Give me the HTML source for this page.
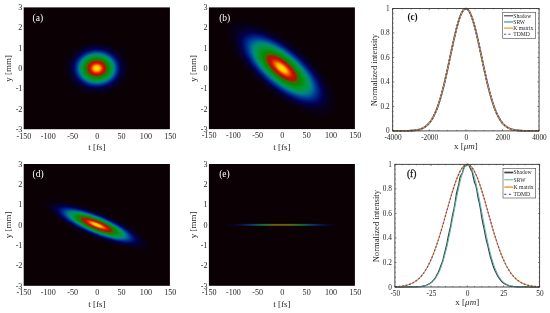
<!DOCTYPE html><html><head><meta charset="utf-8"><title>Figure</title><style>html,body{margin:0;padding:0;background:#fff}svg{display:block}</style></head><body><svg width="550" height="313" viewBox="0 0 550 313" font-family="'Liberation Serif', serif">
<rect width="550" height="313" fill="#fff"/>
<defs>
<radialGradient id="ga" gradientUnits="userSpaceOnUse" cx="0" cy="0" r="36" gradientTransform="translate(96.8 68.3) rotate(0) scale(1.03 0.845)"><stop offset="0.0000" stop-color="#fce018"/><stop offset="0.0721" stop-color="#fbc400"/><stop offset="0.1056" stop-color="#f38700"/><stop offset="0.1461" stop-color="#e43700"/><stop offset="0.1867" stop-color="#cd0c00"/><stop offset="0.2360" stop-color="#9b1e00"/><stop offset="0.2737" stop-color="#506200"/><stop offset="0.3083" stop-color="#058800"/><stop offset="0.3722" stop-color="#009628"/><stop offset="0.4250" stop-color="#009455"/><stop offset="0.4667" stop-color="#00877d"/><stop offset="0.5029" stop-color="#006296"/><stop offset="0.5391" stop-color="#003a94"/><stop offset="0.5923" stop-color="#001473"/><stop offset="0.6455" stop-color="#02004e"/><stop offset="0.7083" stop-color="#06002c"/><stop offset="0.7928" stop-color="#080014"/><stop offset="0.9306" stop-color="#0b0003"/></radialGradient>
<radialGradient id="gb" gradientUnits="userSpaceOnUse" cx="0" cy="0" r="36" gradientTransform="translate(281.9 68.25) rotate(39.7) scale(2.06 0.815)"><stop offset="0.0000" stop-color="#fce018"/><stop offset="0.0683" stop-color="#fbc400"/><stop offset="0.1000" stop-color="#f38700"/><stop offset="0.1411" stop-color="#e43700"/><stop offset="0.1823" stop-color="#cd0c00"/><stop offset="0.2322" stop-color="#9b1e00"/><stop offset="0.2705" stop-color="#506200"/><stop offset="0.3058" stop-color="#058800"/><stop offset="0.3752" stop-color="#009628"/><stop offset="0.4325" stop-color="#009455"/><stop offset="0.4778" stop-color="#00877d"/><stop offset="0.5210" stop-color="#006296"/><stop offset="0.5643" stop-color="#003a94"/><stop offset="0.6278" stop-color="#001473"/><stop offset="0.6797" stop-color="#02004e"/><stop offset="0.7411" stop-color="#06002c"/><stop offset="0.8237" stop-color="#080014"/><stop offset="0.9583" stop-color="#0b0003"/></radialGradient>
<radialGradient id="gd" gradientUnits="userSpaceOnUse" cx="0" cy="0" r="36" gradientTransform="translate(96.8 224.9) rotate(22) scale(1.85 0.435)"><stop offset="0.0000" stop-color="#fce018"/><stop offset="0.0626" stop-color="#fbc400"/><stop offset="0.0917" stop-color="#f38700"/><stop offset="0.1351" stop-color="#e43700"/><stop offset="0.1785" stop-color="#cd0c00"/><stop offset="0.2312" stop-color="#9b1e00"/><stop offset="0.2715" stop-color="#506200"/><stop offset="0.3081" stop-color="#058800"/><stop offset="0.3665" stop-color="#009628"/><stop offset="0.4147" stop-color="#009455"/><stop offset="0.4528" stop-color="#00877d"/><stop offset="0.4920" stop-color="#006296"/><stop offset="0.5313" stop-color="#003a94"/><stop offset="0.5889" stop-color="#001473"/><stop offset="0.6382" stop-color="#02004e"/><stop offset="0.6965" stop-color="#06002c"/><stop offset="0.7750" stop-color="#080014"/><stop offset="0.9028" stop-color="#0b0003"/></radialGradient>
<linearGradient id="ge" gradientUnits="userSpaceOnUse" x1="219.9" x2="343.9" y1="0" y2="0"><stop offset="0.0000" stop-color="#0b0003"/><stop offset="0.0645" stop-color="#0a0014"/><stop offset="0.1290" stop-color="#090837"/><stop offset="0.1774" stop-color="#081964"/><stop offset="0.2258" stop-color="#083787"/><stop offset="0.2742" stop-color="#0a5a82"/><stop offset="0.3145" stop-color="#0f7d5f"/><stop offset="0.3548" stop-color="#19943c"/><stop offset="0.3952" stop-color="#4b8e23"/><stop offset="0.4355" stop-color="#848016"/><stop offset="0.5000" stop-color="#8c7c14"/><stop offset="0.5645" stop-color="#848016"/><stop offset="0.6048" stop-color="#4b8e23"/><stop offset="0.6452" stop-color="#19943c"/><stop offset="0.6855" stop-color="#0f7d5f"/><stop offset="0.7258" stop-color="#0a5a82"/><stop offset="0.7742" stop-color="#083787"/><stop offset="0.8226" stop-color="#081964"/><stop offset="0.8710" stop-color="#090837"/><stop offset="0.9355" stop-color="#0a0014"/><stop offset="1.0000" stop-color="#0b0003"/></linearGradient>
</defs>
<rect x="23.7" y="7.4" width="146.2" height="121.8" fill="url(#ga)"/>
<text x="22.4" y="10.15" font-size="8.1" text-anchor="end" fill="#262626">3</text>
<text x="22.4" y="30.45" font-size="8.1" text-anchor="end" fill="#262626">2</text>
<text x="22.4" y="50.75" font-size="8.1" text-anchor="end" fill="#262626">1</text>
<text x="22.4" y="71.05" font-size="8.1" text-anchor="end" fill="#262626">0</text>
<text x="22.4" y="91.35" font-size="8.1" text-anchor="end" fill="#262626">-1</text>
<text x="22.4" y="111.65" font-size="8.1" text-anchor="end" fill="#262626">-2</text>
<text x="22.4" y="131.95" font-size="8.1" text-anchor="end" fill="#262626">-3</text>
<text x="23.9" y="138.55" font-size="8.1" text-anchor="middle" fill="#262626">-150</text>
<text x="48.2667" y="138.55" font-size="8.1" text-anchor="middle" fill="#262626">-100</text>
<text x="72.6333" y="138.55" font-size="8.1" text-anchor="middle" fill="#262626">-50</text>
<text x="97.2" y="138.55" font-size="8.1" text-anchor="middle" fill="#262626">0</text>
<text x="121.567" y="138.55" font-size="8.1" text-anchor="middle" fill="#262626">50</text>
<text x="145.933" y="138.55" font-size="8.1" text-anchor="middle" fill="#262626">100</text>
<text x="170.3" y="138.55" font-size="8.1" text-anchor="middle" fill="#262626">150</text>
<text x="96.8" y="150.2" font-size="9" text-anchor="middle" fill="#262626">t [fs]</text>
<text transform="translate(10.7 68.3) rotate(-90)" font-size="9" text-anchor="middle" fill="#262626">y [mm]</text>
<text x="32.6" y="20.7" font-size="9.5" fill="#fff">(a)</text>
<rect x="208.9" y="7.4" width="146" height="121.7" fill="url(#gb)"/>
<text x="207.6" y="10.15" font-size="8.1" text-anchor="end" fill="#262626">3</text>
<text x="207.6" y="30.4333" font-size="8.1" text-anchor="end" fill="#262626">2</text>
<text x="207.6" y="50.7167" font-size="8.1" text-anchor="end" fill="#262626">1</text>
<text x="207.6" y="71" font-size="8.1" text-anchor="end" fill="#262626">0</text>
<text x="207.6" y="91.2833" font-size="8.1" text-anchor="end" fill="#262626">-1</text>
<text x="207.6" y="111.567" font-size="8.1" text-anchor="end" fill="#262626">-2</text>
<text x="207.6" y="131.85" font-size="8.1" text-anchor="end" fill="#262626">-3</text>
<text x="209.1" y="138.45" font-size="8.1" text-anchor="middle" fill="#262626">-150</text>
<text x="233.433" y="138.45" font-size="8.1" text-anchor="middle" fill="#262626">-100</text>
<text x="257.767" y="138.45" font-size="8.1" text-anchor="middle" fill="#262626">-50</text>
<text x="282.3" y="138.45" font-size="8.1" text-anchor="middle" fill="#262626">0</text>
<text x="306.633" y="138.45" font-size="8.1" text-anchor="middle" fill="#262626">50</text>
<text x="330.967" y="138.45" font-size="8.1" text-anchor="middle" fill="#262626">100</text>
<text x="355.3" y="138.45" font-size="8.1" text-anchor="middle" fill="#262626">150</text>
<text x="281.9" y="150.1" font-size="9" text-anchor="middle" fill="#262626">t [fs]</text>
<text transform="translate(195.9 68.25) rotate(-90)" font-size="9" text-anchor="middle" fill="#262626">y [mm]</text>
<text x="219.2" y="20.7" font-size="9.5" fill="#fff">(b)</text>
<rect x="23.7" y="164" width="146.2" height="121.8" fill="url(#gd)"/>
<text x="22.4" y="166.75" font-size="8.1" text-anchor="end" fill="#262626">3</text>
<text x="22.4" y="187.05" font-size="8.1" text-anchor="end" fill="#262626">2</text>
<text x="22.4" y="207.35" font-size="8.1" text-anchor="end" fill="#262626">1</text>
<text x="22.4" y="227.65" font-size="8.1" text-anchor="end" fill="#262626">0</text>
<text x="22.4" y="247.95" font-size="8.1" text-anchor="end" fill="#262626">-1</text>
<text x="22.4" y="268.25" font-size="8.1" text-anchor="end" fill="#262626">-2</text>
<text x="22.4" y="288.55" font-size="8.1" text-anchor="end" fill="#262626">-3</text>
<text x="23.9" y="295.15" font-size="8.1" text-anchor="middle" fill="#262626">-150</text>
<text x="48.2667" y="295.15" font-size="8.1" text-anchor="middle" fill="#262626">-100</text>
<text x="72.6333" y="295.15" font-size="8.1" text-anchor="middle" fill="#262626">-50</text>
<text x="97.2" y="295.15" font-size="8.1" text-anchor="middle" fill="#262626">0</text>
<text x="121.567" y="295.15" font-size="8.1" text-anchor="middle" fill="#262626">50</text>
<text x="145.933" y="295.15" font-size="8.1" text-anchor="middle" fill="#262626">100</text>
<text x="170.3" y="295.15" font-size="8.1" text-anchor="middle" fill="#262626">150</text>
<text x="96.8" y="306.8" font-size="9" text-anchor="middle" fill="#262626">t [fs]</text>
<text transform="translate(10.7 224.9) rotate(-90)" font-size="9" text-anchor="middle" fill="#262626">y [mm]</text>
<text x="32.6" y="177.3" font-size="9.5" fill="#fff">(d)</text>
<rect x="208.9" y="164" width="146" height="121.8" fill="#0b0003"/>
<rect x="219.9" y="223.7" width="124" height="2.4" fill="url(#ge)" opacity="0.3"/>
<rect x="219.9" y="224.35" width="124" height="1.1" fill="url(#ge)"/>
<text x="207.6" y="166.75" font-size="8.1" text-anchor="end" fill="#262626">3</text>
<text x="207.6" y="187.05" font-size="8.1" text-anchor="end" fill="#262626">2</text>
<text x="207.6" y="207.35" font-size="8.1" text-anchor="end" fill="#262626">1</text>
<text x="207.6" y="227.65" font-size="8.1" text-anchor="end" fill="#262626">0</text>
<text x="207.6" y="247.95" font-size="8.1" text-anchor="end" fill="#262626">-1</text>
<text x="207.6" y="268.25" font-size="8.1" text-anchor="end" fill="#262626">-2</text>
<text x="207.6" y="288.55" font-size="8.1" text-anchor="end" fill="#262626">-3</text>
<text x="209.1" y="295.15" font-size="8.1" text-anchor="middle" fill="#262626">-150</text>
<text x="233.433" y="295.15" font-size="8.1" text-anchor="middle" fill="#262626">-100</text>
<text x="257.767" y="295.15" font-size="8.1" text-anchor="middle" fill="#262626">-50</text>
<text x="282.3" y="295.15" font-size="8.1" text-anchor="middle" fill="#262626">0</text>
<text x="306.633" y="295.15" font-size="8.1" text-anchor="middle" fill="#262626">50</text>
<text x="330.967" y="295.15" font-size="8.1" text-anchor="middle" fill="#262626">100</text>
<text x="355.3" y="295.15" font-size="8.1" text-anchor="middle" fill="#262626">150</text>
<text x="281.9" y="306.8" font-size="9" text-anchor="middle" fill="#262626">t [fs]</text>
<text transform="translate(195.9 224.9) rotate(-90)" font-size="9" text-anchor="middle" fill="#262626">y [mm]</text>
<text x="219.2" y="177.3" font-size="9.5" fill="#fff">(e)</text>
<rect x="392.65" y="8.5" width="146.4" height="122.4" fill="#fff"/>
<clipPath id="clc"><rect x="392.65" y="7.5" width="146.4" height="124.4"/></clipPath>
<g clip-path="url(#clc)" fill="none" stroke-linejoin="round">
<path d="M392.65 130.90L393.87 130.90L395.09 130.90L396.31 130.89L397.53 130.89L398.75 130.89L399.97 130.88L401.19 130.88L402.41 130.87L403.63 130.85L404.85 130.84L406.07 130.82L407.29 130.79L408.51 130.75L409.73 130.70L410.95 130.64L412.17 130.56L413.39 130.46L414.61 130.33L415.83 130.16L417.05 129.95L418.27 129.70L419.49 129.38L420.71 128.99L421.93 128.52L423.15 127.95L424.37 127.26L425.59 126.43L426.81 125.46L428.03 124.31L429.25 122.96L430.47 121.41L431.69 119.61L432.91 117.55L434.13 115.22L435.35 112.59L436.57 109.65L437.79 106.39L439.01 102.79L440.23 98.87L441.45 94.62L442.67 90.05L443.89 85.19L445.11 80.06L446.33 74.69L447.55 69.14L448.77 63.44L449.99 57.67L451.21 51.89L452.43 46.17L453.65 40.58L454.87 35.21L456.09 30.14L457.31 25.44L458.53 21.19L459.75 17.46L460.97 14.31L462.19 11.80L463.41 9.98L464.63 8.87L465.85 8.50L467.07 8.87L468.29 9.98L469.51 11.80L470.73 14.31L471.95 17.46L473.17 21.19L474.39 25.44L475.61 30.14L476.83 35.21L478.05 40.58L479.27 46.17L480.49 51.89L481.71 57.67L482.93 63.44L484.15 69.14L485.37 74.69L486.59 80.06L487.81 85.19L489.03 90.05L490.25 94.62L491.47 98.87L492.69 102.79L493.91 106.39L495.13 109.65L496.35 112.59L497.57 115.22L498.79 117.55L500.01 119.61L501.23 121.41L502.45 122.96L503.67 124.31L504.89 125.46L506.11 126.43L507.33 127.26L508.55 127.95L509.77 128.52L510.99 128.99L512.21 129.38L513.43 129.70L514.65 129.95L515.87 130.16L517.09 130.33L518.31 130.46L519.53 130.56L520.75 130.64L521.97 130.70L523.19 130.75L524.41 130.79L525.63 130.82L526.85 130.84L528.07 130.85L529.29 130.87L530.51 130.88L531.73 130.88L532.95 130.89L534.17 130.89L535.39 130.89L536.61 130.90L537.83 130.90L539.05 130.90" stroke="#404040" stroke-width="1.7"/>
<path d="M392.65 130.90L393.87 130.90L395.09 130.90L396.31 130.89L397.53 130.89L398.75 130.89L399.97 130.88L401.19 130.88L402.41 130.87L403.63 130.85L404.85 130.84L406.07 130.82L407.29 130.79L408.51 130.75L409.73 130.70L410.95 130.64L412.17 130.56L413.39 130.46L414.61 130.33L415.83 130.16L417.05 129.95L418.27 129.70L419.49 129.38L420.71 128.99L421.93 128.52L423.15 127.95L424.37 127.26L425.59 126.43L426.81 125.46L428.03 124.31L429.25 122.96L430.47 121.41L431.69 119.61L432.91 117.55L434.13 115.22L435.35 112.59L436.57 109.65L437.79 106.39L439.01 102.79L440.23 98.87L441.45 94.62L442.67 90.05L443.89 85.19L445.11 80.06L446.33 74.69L447.55 69.14L448.77 63.44L449.99 57.67L451.21 51.89L452.43 46.17L453.65 40.58L454.87 35.21L456.09 30.14L457.31 25.44L458.53 21.19L459.75 17.46L460.97 14.31L462.19 11.80L463.41 9.98L464.63 8.87L465.85 8.50L467.07 8.87L468.29 9.98L469.51 11.80L470.73 14.31L471.95 17.46L473.17 21.19L474.39 25.44L475.61 30.14L476.83 35.21L478.05 40.58L479.27 46.17L480.49 51.89L481.71 57.67L482.93 63.44L484.15 69.14L485.37 74.69L486.59 80.06L487.81 85.19L489.03 90.05L490.25 94.62L491.47 98.87L492.69 102.79L493.91 106.39L495.13 109.65L496.35 112.59L497.57 115.22L498.79 117.55L500.01 119.61L501.23 121.41L502.45 122.96L503.67 124.31L504.89 125.46L506.11 126.43L507.33 127.26L508.55 127.95L509.77 128.52L510.99 128.99L512.21 129.38L513.43 129.70L514.65 129.95L515.87 130.16L517.09 130.33L518.31 130.46L519.53 130.56L520.75 130.64L521.97 130.70L523.19 130.75L524.41 130.79L525.63 130.82L526.85 130.84L528.07 130.85L529.29 130.87L530.51 130.88L531.73 130.88L532.95 130.89L534.17 130.89L535.39 130.89L536.61 130.90L537.83 130.90L539.05 130.90" stroke="#3fa79c" stroke-width="1.5"/>
<path d="M392.65 130.90L393.87 130.90L395.09 130.90L396.31 130.89L397.53 130.89L398.75 130.89L399.97 130.88L401.19 130.88L402.41 130.87L403.63 130.85L404.85 130.84L406.07 130.82L407.29 130.79L408.51 130.75L409.73 130.70L410.95 130.64L412.17 130.56L413.39 130.46L414.61 130.33L415.83 130.16L417.05 129.95L418.27 129.70L419.49 129.38L420.71 128.99L421.93 128.52L423.15 127.95L424.37 127.26L425.59 126.43L426.81 125.46L428.03 124.31L429.25 122.96L430.47 121.41L431.69 119.61L432.91 117.55L434.13 115.22L435.35 112.59L436.57 109.65L437.79 106.39L439.01 102.79L440.23 98.87L441.45 94.62L442.67 90.05L443.89 85.19L445.11 80.06L446.33 74.69L447.55 69.14L448.77 63.44L449.99 57.67L451.21 51.89L452.43 46.17L453.65 40.58L454.87 35.21L456.09 30.14L457.31 25.44L458.53 21.19L459.75 17.46L460.97 14.31L462.19 11.80L463.41 9.98L464.63 8.87L465.85 8.50L467.07 8.87L468.29 9.98L469.51 11.80L470.73 14.31L471.95 17.46L473.17 21.19L474.39 25.44L475.61 30.14L476.83 35.21L478.05 40.58L479.27 46.17L480.49 51.89L481.71 57.67L482.93 63.44L484.15 69.14L485.37 74.69L486.59 80.06L487.81 85.19L489.03 90.05L490.25 94.62L491.47 98.87L492.69 102.79L493.91 106.39L495.13 109.65L496.35 112.59L497.57 115.22L498.79 117.55L500.01 119.61L501.23 121.41L502.45 122.96L503.67 124.31L504.89 125.46L506.11 126.43L507.33 127.26L508.55 127.95L509.77 128.52L510.99 128.99L512.21 129.38L513.43 129.70L514.65 129.95L515.87 130.16L517.09 130.33L518.31 130.46L519.53 130.56L520.75 130.64L521.97 130.70L523.19 130.75L524.41 130.79L525.63 130.82L526.85 130.84L528.07 130.85L529.29 130.87L530.51 130.88L531.73 130.88L532.95 130.89L534.17 130.89L535.39 130.89L536.61 130.90L537.83 130.90L539.05 130.90" stroke="#e39a18" stroke-width="1.4"/>
<path d="M392.65 130.90L393.87 130.90L395.09 130.90L396.31 130.89L397.53 130.89L398.75 130.89L399.97 130.88L401.19 130.88L402.41 130.87L403.63 130.85L404.85 130.84L406.07 130.82L407.29 130.79L408.51 130.75L409.73 130.70L410.95 130.64L412.17 130.56L413.39 130.46L414.61 130.33L415.83 130.16L417.05 129.95L418.27 129.70L419.49 129.38L420.71 128.99L421.93 128.52L423.15 127.95L424.37 127.26L425.59 126.43L426.81 125.46L428.03 124.31L429.25 122.96L430.47 121.41L431.69 119.61L432.91 117.55L434.13 115.22L435.35 112.59L436.57 109.65L437.79 106.39L439.01 102.79L440.23 98.87L441.45 94.62L442.67 90.05L443.89 85.19L445.11 80.06L446.33 74.69L447.55 69.14L448.77 63.44L449.99 57.67L451.21 51.89L452.43 46.17L453.65 40.58L454.87 35.21L456.09 30.14L457.31 25.44L458.53 21.19L459.75 17.46L460.97 14.31L462.19 11.80L463.41 9.98L464.63 8.87L465.85 8.50L467.07 8.87L468.29 9.98L469.51 11.80L470.73 14.31L471.95 17.46L473.17 21.19L474.39 25.44L475.61 30.14L476.83 35.21L478.05 40.58L479.27 46.17L480.49 51.89L481.71 57.67L482.93 63.44L484.15 69.14L485.37 74.69L486.59 80.06L487.81 85.19L489.03 90.05L490.25 94.62L491.47 98.87L492.69 102.79L493.91 106.39L495.13 109.65L496.35 112.59L497.57 115.22L498.79 117.55L500.01 119.61L501.23 121.41L502.45 122.96L503.67 124.31L504.89 125.46L506.11 126.43L507.33 127.26L508.55 127.95L509.77 128.52L510.99 128.99L512.21 129.38L513.43 129.70L514.65 129.95L515.87 130.16L517.09 130.33L518.31 130.46L519.53 130.56L520.75 130.64L521.97 130.70L523.19 130.75L524.41 130.79L525.63 130.82L526.85 130.84L528.07 130.85L529.29 130.87L530.51 130.88L531.73 130.88L532.95 130.89L534.17 130.89L535.39 130.89L536.61 130.90L537.83 130.90L539.05 130.90" stroke="#6a3fb0" stroke-width="1.4" stroke-dasharray="1.8 1.8"/>
</g>
<path d="M392.65 8.50h1.6M539.05 8.50h-1.6M392.65 13.40h0.9M539.05 13.40h-0.9M392.65 18.29h0.9M539.05 18.29h-0.9M392.65 23.19h0.9M539.05 23.19h-0.9M392.65 28.08h0.9M539.05 28.08h-0.9M392.65 32.98h1.6M539.05 32.98h-1.6M392.65 37.88h0.9M539.05 37.88h-0.9M392.65 42.77h0.9M539.05 42.77h-0.9M392.65 47.67h0.9M539.05 47.67h-0.9M392.65 52.56h0.9M539.05 52.56h-0.9M392.65 57.46h1.6M539.05 57.46h-1.6M392.65 62.36h0.9M539.05 62.36h-0.9M392.65 67.25h0.9M539.05 67.25h-0.9M392.65 72.15h0.9M539.05 72.15h-0.9M392.65 77.04h0.9M539.05 77.04h-0.9M392.65 81.94h1.6M539.05 81.94h-1.6M392.65 86.84h0.9M539.05 86.84h-0.9M392.65 91.73h0.9M539.05 91.73h-0.9M392.65 96.63h0.9M539.05 96.63h-0.9M392.65 101.52h0.9M539.05 101.52h-0.9M392.65 106.42h1.6M539.05 106.42h-1.6M392.65 111.32h0.9M539.05 111.32h-0.9M392.65 116.21h0.9M539.05 116.21h-0.9M392.65 121.11h0.9M539.05 121.11h-0.9M392.65 126.00h0.9M539.05 126.00h-0.9M392.65 130.90h1.6M539.05 130.90h-1.6M392.65 130.90v-1.6M392.65 8.50v1.6M401.80 130.90v-0.9M401.80 8.50v0.9M410.95 130.90v-0.9M410.95 8.50v0.9M420.10 130.90v-0.9M420.10 8.50v0.9M429.25 130.90v-1.6M429.25 8.50v1.6M438.40 130.90v-0.9M438.40 8.50v0.9M447.55 130.90v-0.9M447.55 8.50v0.9M456.70 130.90v-0.9M456.70 8.50v0.9M465.85 130.90v-1.6M465.85 8.50v1.6M475.00 130.90v-0.9M475.00 8.50v0.9M484.15 130.90v-0.9M484.15 8.50v0.9M493.30 130.90v-0.9M493.30 8.50v0.9M502.45 130.90v-1.6M502.45 8.50v1.6M511.60 130.90v-0.9M511.60 8.50v0.9M520.75 130.90v-0.9M520.75 8.50v0.9M529.90 130.90v-0.9M529.90 8.50v0.9M539.05 130.90v-1.6M539.05 8.50v1.6" stroke="#333" stroke-width="0.6" fill="none"/>
<rect x="392.65" y="8.5" width="146.4" height="122.4" fill="none" stroke="#333" stroke-width="0.9"/>
<text x="389.65" y="11" font-size="7.3" text-anchor="end" fill="#262626">1</text>
<text x="389.65" y="35.48" font-size="7.3" text-anchor="end" fill="#262626">0.8</text>
<text x="389.65" y="59.96" font-size="7.3" text-anchor="end" fill="#262626">0.6</text>
<text x="389.65" y="84.44" font-size="7.3" text-anchor="end" fill="#262626">0.4</text>
<text x="389.65" y="108.92" font-size="7.3" text-anchor="end" fill="#262626">0.2</text>
<text x="389.65" y="133.4" font-size="7.3" text-anchor="end" fill="#262626">0</text>
<text x="393.05" y="139.5" font-size="7.3" text-anchor="middle" fill="#262626">-4000</text>
<text x="429.65" y="139.5" font-size="7.3" text-anchor="middle" fill="#262626">-2000</text>
<text x="466.25" y="139.5" font-size="7.3" text-anchor="middle" fill="#262626">0</text>
<text x="502.85" y="139.5" font-size="7.3" text-anchor="middle" fill="#262626">2000</text>
<text x="539.45" y="139.5" font-size="7.3" text-anchor="middle" fill="#262626">4000</text>
<text x="465.85" y="149.3" font-size="9" text-anchor="middle" fill="#262626">x [<tspan font-style="italic">μm</tspan>]</text>
<text transform="translate(376.85 70.2) rotate(-90)" font-size="8.6" text-anchor="middle" fill="#262626">Normalized intensity</text>
<text x="407.4" y="20.3" font-size="9.3" font-weight="bold" fill="#111">(c)</text>
<rect x="502.7" y="12.3" width="33" height="26.2" fill="#fff" stroke="#444" stroke-width="0.6"/>
<path d="M504 15.8h9" stroke="#404040" stroke-width="1.1" fill="none"/>
<text x="513.3" y="17.7" font-size="5.6" fill="#262626">Shadow</text>
<path d="M504 21.95h9" stroke="#3fa79c" stroke-width="1.3" fill="none"/>
<text x="513.3" y="23.85" font-size="5.6" fill="#262626">SRW</text>
<path d="M504 28.1h9" stroke="#e89018" stroke-width="1.1" fill="none"/>
<text x="513.3" y="30" font-size="5.6" fill="#262626">K matrix</text>
<path d="M504 34.25h9" stroke="#7a48c0" stroke-width="1.1" fill="none" stroke-dasharray="2.2 2.2"/>
<text x="513.3" y="36.15" font-size="5.6" fill="#262626">TDMD</text>
<rect x="394.9" y="164.35" width="144.7" height="122.65" fill="#fff"/>
<clipPath id="clf"><rect x="394.9" y="163.35" width="144.7" height="124.65"/></clipPath>
<g clip-path="url(#clf)" fill="none" stroke-linejoin="round">
<path d="M394.90 287.00L396.11 287.00L397.31 287.00L398.52 287.00L399.72 287.00L400.93 287.00L402.13 287.00L403.34 287.00L404.55 286.99L405.75 286.99L406.96 286.99L408.16 286.98L409.37 286.98L410.58 286.97L411.78 286.95L412.99 286.93L414.19 286.91L415.40 286.87L416.60 286.82L417.81 286.75L419.02 286.67L420.22 286.55L421.43 286.41L422.63 286.23L423.84 285.98L425.05 285.65L426.25 285.28L427.46 284.78L428.66 284.13L429.87 283.45L431.07 282.61L432.28 281.45L433.49 280.19L434.69 278.74L435.90 276.71L437.10 274.47L438.31 272.25L439.52 269.35L440.72 266.01L441.93 262.97L443.13 259.09L444.34 254.05L445.54 249.47L446.75 244.50L447.96 237.96L449.16 232.29L450.37 227.51L451.57 220.72L452.78 214.02L453.99 209.03L455.19 201.87L456.40 193.74L457.60 189.00L458.81 184.03L460.01 177.45L461.22 174.67L462.43 173.10L463.63 168.16L464.84 165.42L466.04 165.78L467.25 164.35L468.46 164.35L469.66 166.82L470.87 169.72L472.07 171.46L473.28 177.17L474.48 182.38L475.69 184.91L476.90 190.48L478.10 197.75L479.31 202.79L480.51 209.20L481.72 217.50L482.93 223.51L484.13 228.79L485.34 235.48L486.54 241.00L487.75 245.43L488.95 250.93L490.16 256.13L491.37 260.01L492.57 263.99L493.78 267.80L494.98 270.52L496.19 272.97L497.40 275.49L498.60 277.44L499.81 279.06L501.01 280.67L502.22 281.95L503.42 282.89L504.63 283.74L505.84 284.45L507.04 284.96L508.25 285.40L509.45 285.79L510.66 286.07L511.87 286.29L513.07 286.47L514.28 286.61L515.48 286.70L516.69 286.78L517.89 286.84L519.10 286.88L520.31 286.91L521.51 286.94L522.72 286.96L523.92 286.97L525.13 286.98L526.34 286.99L527.54 286.99L528.75 286.99L529.95 287.00L531.16 287.00L532.37 287.00L533.57 287.00L534.78 287.00L535.98 287.00L537.19 287.00L538.39 287.00L539.60 287.00" stroke="#404040" stroke-width="1.25"/>
<path d="M394.90 287.00L396.11 287.00L397.31 287.00L398.52 287.00L399.72 287.00L400.93 287.00L402.13 287.00L403.34 287.00L404.55 287.00L405.75 286.99L406.96 286.99L408.16 286.99L409.37 286.98L410.58 286.97L411.78 286.96L412.99 286.94L414.19 286.92L415.40 286.89L416.60 286.84L417.81 286.79L419.02 286.71L420.22 286.61L421.43 286.48L422.63 286.31L423.84 286.10L425.05 285.82L426.25 285.47L427.46 285.04L428.66 284.50L429.87 283.83L431.07 283.02L432.28 282.04L433.49 280.85L434.69 279.44L435.90 277.78L437.10 275.83L438.31 273.57L439.52 270.96L440.72 268.00L441.93 264.65L443.13 260.91L444.34 256.77L445.54 252.22L446.75 247.28L447.96 241.98L449.16 236.35L450.37 230.42L451.57 224.27L452.78 217.97L453.99 211.59L455.19 205.22L456.40 198.97L457.60 192.94L458.81 187.23L460.01 181.96L461.22 177.22L462.43 173.11L463.63 169.71L464.84 167.10L466.04 165.34L467.25 164.45L468.46 164.47L469.66 165.39L470.87 167.19L472.07 169.83L473.28 173.26L474.48 177.39L475.69 182.16L476.90 187.45L478.10 193.17L479.31 199.22L480.51 205.47L481.72 211.84L482.93 218.22L484.13 224.52L485.34 230.67L486.54 236.58L487.75 242.20L488.95 247.49L490.16 252.41L491.37 256.94L492.57 261.07L493.78 264.80L494.98 268.13L496.19 271.08L497.40 273.66L498.60 275.91L499.81 277.85L501.01 279.50L502.22 280.90L503.42 282.08L504.63 283.06L505.84 283.86L507.04 284.52L508.25 285.06L509.45 285.49L510.66 285.83L511.87 286.11L513.07 286.32L514.28 286.49L515.48 286.61L516.69 286.71L517.89 286.79L519.10 286.84L520.31 286.89L521.51 286.92L522.72 286.94L523.92 286.96L525.13 286.97L526.34 286.98L527.54 286.99L528.75 286.99L529.95 286.99L531.16 287.00L532.37 287.00L533.57 287.00L534.78 287.00L535.98 287.00L537.19 287.00L538.39 287.00L539.60 287.00" stroke="#55b3a8" stroke-width="1"/>
<path d="M394.90 286.69L396.11 286.62L397.31 286.54L398.52 286.45L399.72 286.33L400.93 286.20L402.13 286.04L403.34 285.85L404.55 285.63L405.75 285.38L406.96 285.08L408.16 284.74L409.37 284.34L410.58 283.89L411.78 283.37L412.99 282.77L414.19 282.10L415.40 281.33L416.60 280.47L417.81 279.51L419.02 278.43L420.22 277.22L421.43 275.89L422.63 274.41L423.84 272.79L425.05 271.01L426.25 269.06L427.46 266.95L428.66 264.66L429.87 262.19L431.07 259.54L432.28 256.71L433.49 253.70L434.69 250.51L435.90 247.15L437.10 243.62L438.31 239.94L439.52 236.11L440.72 232.16L441.93 228.09L443.13 223.93L444.34 219.71L445.54 215.44L446.75 211.15L447.96 206.87L449.16 202.63L450.37 198.46L451.57 194.40L452.78 190.47L453.99 186.70L455.19 183.14L456.40 179.81L457.60 176.73L458.81 173.95L460.01 171.48L461.22 169.34L462.43 167.57L463.63 166.17L464.84 165.16L466.04 164.55L467.25 164.35L468.46 164.55L469.66 165.16L470.87 166.17L472.07 167.57L473.28 169.34L474.48 171.48L475.69 173.95L476.90 176.73L478.10 179.81L479.31 183.14L480.51 186.70L481.72 190.47L482.93 194.40L484.13 198.46L485.34 202.63L486.54 206.87L487.75 211.15L488.95 215.44L490.16 219.71L491.37 223.93L492.57 228.09L493.78 232.16L494.98 236.11L496.19 239.94L497.40 243.62L498.60 247.15L499.81 250.51L501.01 253.70L502.22 256.71L503.42 259.54L504.63 262.19L505.84 264.66L507.04 266.95L508.25 269.06L509.45 271.01L510.66 272.79L511.87 274.41L513.07 275.89L514.28 277.22L515.48 278.43L516.69 279.51L517.89 280.47L519.10 281.33L520.31 282.10L521.51 282.77L522.72 283.37L523.92 283.89L525.13 284.34L526.34 284.74L527.54 285.08L528.75 285.38L529.95 285.63L531.16 285.85L532.37 286.04L533.57 286.20L534.78 286.33L535.98 286.45L537.19 286.54L538.39 286.62L539.60 286.69" stroke="#e39a18" stroke-width="1.15"/>
<path d="M394.90 286.69L396.11 286.62L397.31 286.54L398.52 286.45L399.72 286.33L400.93 286.20L402.13 286.04L403.34 285.85L404.55 285.63L405.75 285.38L406.96 285.08L408.16 284.74L409.37 284.34L410.58 283.89L411.78 283.37L412.99 282.77L414.19 282.10L415.40 281.33L416.60 280.47L417.81 279.51L419.02 278.43L420.22 277.22L421.43 275.89L422.63 274.41L423.84 272.79L425.05 271.01L426.25 269.06L427.46 266.95L428.66 264.66L429.87 262.19L431.07 259.54L432.28 256.71L433.49 253.70L434.69 250.51L435.90 247.15L437.10 243.62L438.31 239.94L439.52 236.11L440.72 232.16L441.93 228.09L443.13 223.93L444.34 219.71L445.54 215.44L446.75 211.15L447.96 206.87L449.16 202.63L450.37 198.46L451.57 194.40L452.78 190.47L453.99 186.70L455.19 183.14L456.40 179.81L457.60 176.73L458.81 173.95L460.01 171.48L461.22 169.34L462.43 167.57L463.63 166.17L464.84 165.16L466.04 164.55L467.25 164.35L468.46 164.55L469.66 165.16L470.87 166.17L472.07 167.57L473.28 169.34L474.48 171.48L475.69 173.95L476.90 176.73L478.10 179.81L479.31 183.14L480.51 186.70L481.72 190.47L482.93 194.40L484.13 198.46L485.34 202.63L486.54 206.87L487.75 211.15L488.95 215.44L490.16 219.71L491.37 223.93L492.57 228.09L493.78 232.16L494.98 236.11L496.19 239.94L497.40 243.62L498.60 247.15L499.81 250.51L501.01 253.70L502.22 256.71L503.42 259.54L504.63 262.19L505.84 264.66L507.04 266.95L508.25 269.06L509.45 271.01L510.66 272.79L511.87 274.41L513.07 275.89L514.28 277.22L515.48 278.43L516.69 279.51L517.89 280.47L519.10 281.33L520.31 282.10L521.51 282.77L522.72 283.37L523.92 283.89L525.13 284.34L526.34 284.74L527.54 285.08L528.75 285.38L529.95 285.63L531.16 285.85L532.37 286.04L533.57 286.20L534.78 286.33L535.98 286.45L537.19 286.54L538.39 286.62L539.60 286.69" stroke="#6a3fb0" stroke-width="1.15" stroke-dasharray="1.8 1.8"/>
</g>
<path d="M394.90 164.35h1.6M539.60 164.35h-1.6M394.90 169.26h0.9M539.60 169.26h-0.9M394.90 174.16h0.9M539.60 174.16h-0.9M394.90 179.07h0.9M539.60 179.07h-0.9M394.90 183.97h0.9M539.60 183.97h-0.9M394.90 188.88h1.6M539.60 188.88h-1.6M394.90 193.79h0.9M539.60 193.79h-0.9M394.90 198.69h0.9M539.60 198.69h-0.9M394.90 203.60h0.9M539.60 203.60h-0.9M394.90 208.50h0.9M539.60 208.50h-0.9M394.90 213.41h1.6M539.60 213.41h-1.6M394.90 218.32h0.9M539.60 218.32h-0.9M394.90 223.22h0.9M539.60 223.22h-0.9M394.90 228.13h0.9M539.60 228.13h-0.9M394.90 233.03h0.9M539.60 233.03h-0.9M394.90 237.94h1.6M539.60 237.94h-1.6M394.90 242.85h0.9M539.60 242.85h-0.9M394.90 247.75h0.9M539.60 247.75h-0.9M394.90 252.66h0.9M539.60 252.66h-0.9M394.90 257.56h0.9M539.60 257.56h-0.9M394.90 262.47h1.6M539.60 262.47h-1.6M394.90 267.38h0.9M539.60 267.38h-0.9M394.90 272.28h0.9M539.60 272.28h-0.9M394.90 277.19h0.9M539.60 277.19h-0.9M394.90 282.09h0.9M539.60 282.09h-0.9M394.90 287.00h1.6M539.60 287.00h-1.6M394.90 287.00v-1.6M394.90 164.35v1.6M402.13 287.00v-0.9M402.13 164.35v0.9M409.37 287.00v-0.9M409.37 164.35v0.9M416.60 287.00v-0.9M416.60 164.35v0.9M423.84 287.00v-0.9M423.84 164.35v0.9M431.07 287.00v-1.6M431.07 164.35v1.6M438.31 287.00v-0.9M438.31 164.35v0.9M445.54 287.00v-0.9M445.54 164.35v0.9M452.78 287.00v-0.9M452.78 164.35v0.9M460.01 287.00v-0.9M460.01 164.35v0.9M467.25 287.00v-1.6M467.25 164.35v1.6M474.48 287.00v-0.9M474.48 164.35v0.9M481.72 287.00v-0.9M481.72 164.35v0.9M488.95 287.00v-0.9M488.95 164.35v0.9M496.19 287.00v-0.9M496.19 164.35v0.9M503.42 287.00v-1.6M503.42 164.35v1.6M510.66 287.00v-0.9M510.66 164.35v0.9M517.89 287.00v-0.9M517.89 164.35v0.9M525.13 287.00v-0.9M525.13 164.35v0.9M532.37 287.00v-0.9M532.37 164.35v0.9M539.60 287.00v-1.6M539.60 164.35v1.6" stroke="#333" stroke-width="0.6" fill="none"/>
<rect x="394.9" y="164.35" width="144.7" height="122.65" fill="none" stroke="#333" stroke-width="0.9"/>
<text x="391.9" y="166.85" font-size="7.3" text-anchor="end" fill="#262626">1</text>
<text x="391.9" y="191.38" font-size="7.3" text-anchor="end" fill="#262626">0.8</text>
<text x="391.9" y="215.91" font-size="7.3" text-anchor="end" fill="#262626">0.6</text>
<text x="391.9" y="240.44" font-size="7.3" text-anchor="end" fill="#262626">0.4</text>
<text x="391.9" y="264.97" font-size="7.3" text-anchor="end" fill="#262626">0.2</text>
<text x="391.9" y="289.5" font-size="7.3" text-anchor="end" fill="#262626">0</text>
<text x="395.3" y="295.6" font-size="7.3" text-anchor="middle" fill="#262626">-50</text>
<text x="431.475" y="295.6" font-size="7.3" text-anchor="middle" fill="#262626">-25</text>
<text x="467.65" y="295.6" font-size="7.3" text-anchor="middle" fill="#262626">0</text>
<text x="503.825" y="295.6" font-size="7.3" text-anchor="middle" fill="#262626">25</text>
<text x="540" y="295.6" font-size="7.3" text-anchor="middle" fill="#262626">50</text>
<text x="467.25" y="305.4" font-size="9" text-anchor="middle" fill="#262626">x [<tspan font-style="italic">μm</tspan>]</text>
<text transform="translate(379.1 226.175) rotate(-90)" font-size="8.6" text-anchor="middle" fill="#262626">Normalized intensity</text>
<text x="406.9" y="177.3" font-size="9.5" fill="#111" stroke="#111" stroke-width="0.25">(f)</text>
<rect x="503" y="168.3" width="32.7" height="29.7" fill="#fff" stroke="#444" stroke-width="0.6"/>
<path d="M504.3 172.5h9" stroke="#404040" stroke-width="1.7" fill="none"/>
<text x="513.6" y="174.4" font-size="5.6" fill="#262626">Shadow</text>
<path d="M504.3 179.8h9" stroke="#3fa79c" stroke-width="0.9" fill="none"/>
<text x="513.6" y="181.7" font-size="5.6" fill="#262626">SRW</text>
<path d="M504.3 187.1h9" stroke="#e89018" stroke-width="1.3" fill="none"/>
<text x="513.6" y="189" font-size="5.6" fill="#262626">K matrix</text>
<path d="M504.3 194.4h9" stroke="#7a48c0" stroke-width="1.1" fill="none" stroke-dasharray="2 2.6"/>
<text x="513.6" y="196.3" font-size="5.6" fill="#262626">TDMD</text>
</svg></body></html>
